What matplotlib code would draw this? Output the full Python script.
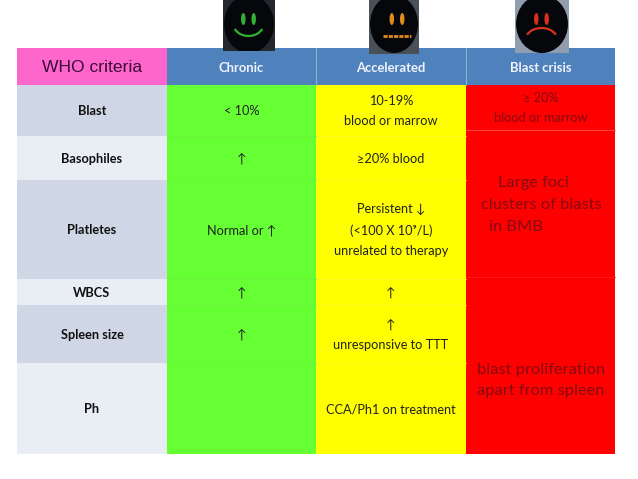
import numpy as np
import matplotlib
matplotlib.use("Agg")
import matplotlib.pyplot as plt
from matplotlib.patches import Rectangle, Ellipse, Arc

plt.rcParams['font.family'] = ['Lato', 'DejaVu Sans']

headers = ["Chronic", "Accelerated", "Blast crisis"]
row_names = ["Blast", "Basophiles", "Platletes", "WBCS", "Spleen size", "Ph"]
chronic = ["< 10%", "↑", "Normal or ↑", "↑", "↑", ""]
accelerated = ["10-19%\nblood or marrow", "≥20% blood",
               "Persistent ↓\n(<100 X 10⁹/L)\nunrelated to therapy", "↑",
               "↑\nunresponsive to TTT", "CCA/Ph1 on treatment"]

col_x = [17, 167, 316, 466, 615]
row_y = [48, 85, 136, 180, 279, 305, 363, 454]

fig = plt.figure(figsize=(6.38, 4.79), dpi=100)
ax = fig.add_axes([0, 0, 1, 1])
ax.set_xlim(0, 638)
ax.set_ylim(479, 0)
ax.axis("off")


def cell(x0, x1, y0, y1, color):
    ax.add_patch(Rectangle((x0, y0), x1 - x0, y1 - y0, fc=color, ec="none", zorder=1))


# header
cell(col_x[0], col_x[1], row_y[0], row_y[1], "#ff66cc")
for i, h in enumerate(headers):
    cell(col_x[i + 1], col_x[i + 2], row_y[0], row_y[1], "#4f81bd")
    ax.text((col_x[i + 1] + col_x[i + 2]) / 2, 67.5, h, color="#eef3fa", fontsize=9.4,
            fontweight="bold", ha="center", va="center", zorder=3)
ax.text(92, 67, "WHO criteria", color="#3a0a3a", fontsize=12.6, family="Liberation Sans",
        ha="center", va="center", zorder=3)
ax.plot([316, 316], [48, 85], color="#9fbbdc", lw=0.6, zorder=2)
ax.plot([466, 466], [48, 85], color="#9fbbdc", lw=0.6, zorder=2)

# body
for i, name in enumerate(row_names):
    y0, y1 = row_y[i + 1], row_y[i + 2]
    ym = (y0 + y1) / 2 + 0.7
    cell(col_x[0], col_x[1], y0, y1, "#cfd7e6" if i % 2 == 0 else "#e9edf4")
    ax.text(92, ym, name, color="#111111", fontsize=9.2, fontweight="bold",
            ha="center", va="center", zorder=3)
    ax.text(241.5, ym, chronic[i], color="#222222", fontsize=9.2, ha="center", va="center", zorder=3)
    ax.text(391, ym, accelerated[i], color="#222222", fontsize=9.2, ha="center", va="center",
            linespacing=1.85, zorder=3)

cell(col_x[1], col_x[2], row_y[1], row_y[-1], "#66ff33")
cell(col_x[2], col_x[3], row_y[1], row_y[-1], "#ffff00")
cell(col_x[3], col_x[4], row_y[1], row_y[-1], "#ff0000")
ax.plot([466, 615], [130, 130], color="#ff5050", lw=0.6, zorder=2)
ax.plot([466, 615], [277, 277], color="#ff2020", lw=0.6, zorder=2)
for y in row_y[2:-1]:
    ax.plot([316, 466], [y, y], color="#f4f430", lw=0.5, zorder=2)
    ax.plot([167, 316], [y, y], color="#70f040", lw=0.5, zorder=2)

# blast crisis text
dark_red = "#820c12"
ax.text(540.5, 108, "≥ 20%\nblood or marrow", color=dark_red, fontsize=9.2, ha="center", va="center",
        linespacing=1.85, zorder=3)
ax.text(498, 183, "Large foci", color=dark_red, fontsize=11.8, va="center", zorder=3)
ax.text(481, 205, "clusters of blasts", color=dark_red, fontsize=11.8, va="center", zorder=3)
ax.text(489, 227, "in BMB", color=dark_red, fontsize=11.8, va="center", zorder=3)
ax.text(477, 370, "blast proliferation", color=dark_red, fontsize=11.8, va="center", zorder=3)
ax.text(477, 391, "apart from spleen", color=dark_red, fontsize=11.8, va="center", zorder=3)


# traffic light faces
def face(x0, x1, y1, corner, color, eye_x, mood):
    cx = (x0 + x1) / 2
    box = Rectangle((x0, 0), x1 - x0, y1, fc=corner, ec="none", zorder=4)
    ax.add_patch(box)
    head = Ellipse((cx, 24), x1 - x0 - 2, 58, fc="#06070a", ec="none", zorder=5)
    ax.add_patch(head)
    head.set_clip_path(box)
    for dx in (-5.2, 5.2):
        ax.add_patch(Ellipse((eye_x + dx, 19), 4.5, 12, fc=color, ec="none", zorder=6))
    if mood == "happy":
        ax.add_patch(Arc((eye_x, 24), 30, 24, theta1=20, theta2=160, color=color, lw=1.6, zorder=6))
    elif mood == "flat":
        ax.plot([eye_x - 14, eye_x + 14], [36, 36], color=color, lw=2, ls=(0, (1.5, 0.4)), zorder=6)
    else:
        ax.add_patch(Arc((eye_x, 40), 32, 24, theta1=200, theta2=340, color=color, lw=1.6, zorder=6))


face(223, 275, 51, "#23282f", "#33b033", 248.5, "happy")
face(369, 419, 54, "#4a5058", "#e08a20", 397, "flat")
face(515, 569, 53, "#8f9daf", "#d8301c", 541.5, "sad")

fig.savefig("out.png", dpi=100)
